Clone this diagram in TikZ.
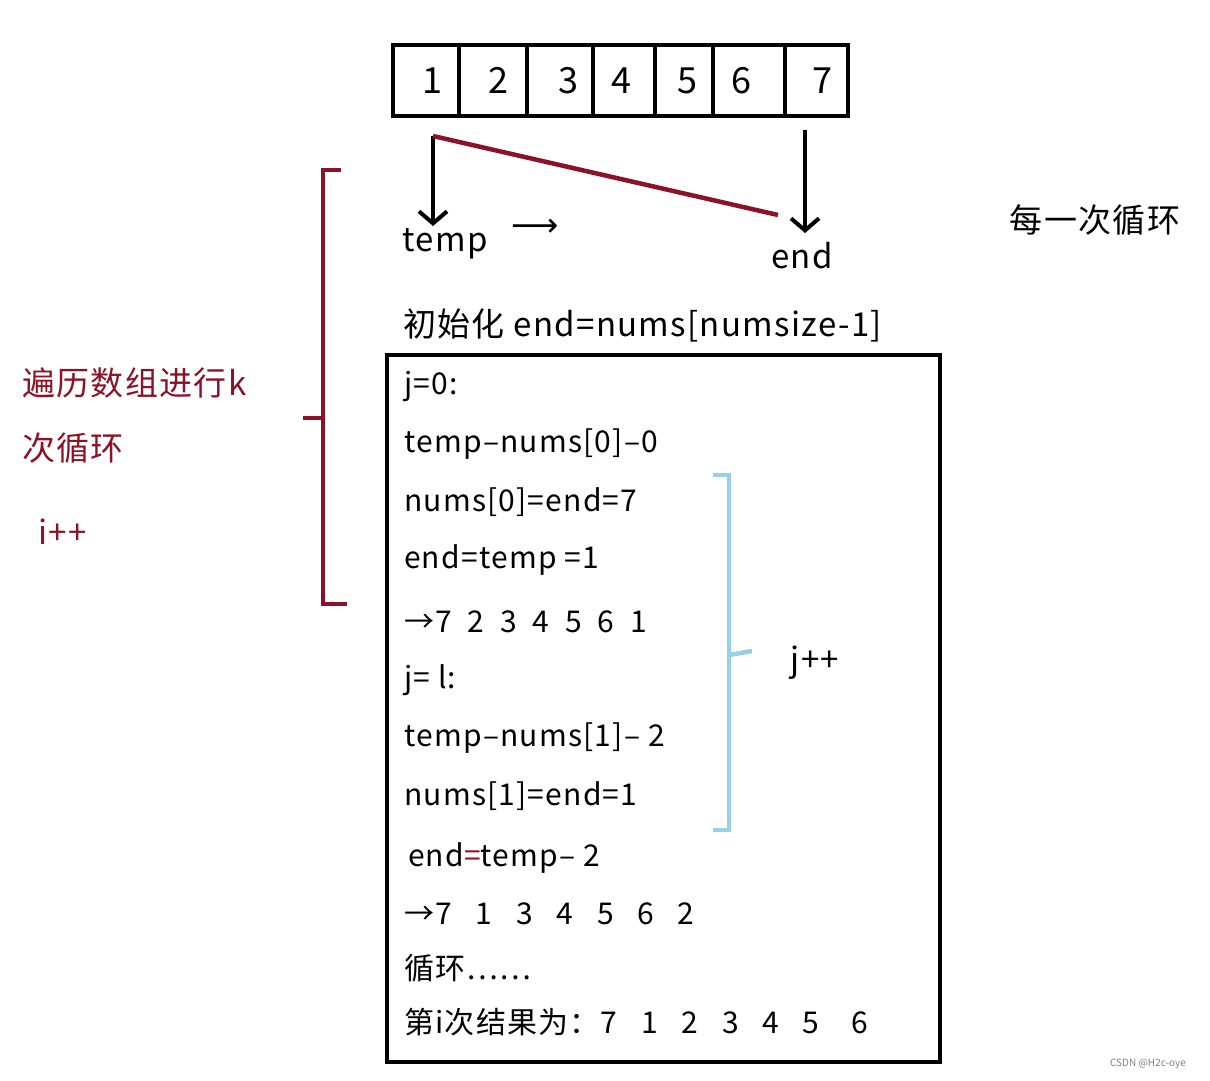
\documentclass[tikz,border=0pt]{standalone}
\usepackage{fontspec}
\setmainfont{Noto Sans CJK SC}
\newfontfamily\djv{DejaVu Sans}
\newfontfamily\spaced[LetterSpace=4]{Noto Sans CJK SC}
\definecolor{dred}{RGB}{140,18,40}
\definecolor{lblue}{RGB}{150,210,230}
\usetikzlibrary{arrows.meta}
\tikzset{
  cell/.style={draw,line width=3.5pt,minimum width=#1pt,minimum height=71pt,inner sep=0pt,font=\fontsize{36}{38}\selectfont},
  ln/.style={anchor=west,inner sep=0pt,font=\spaced\fontsize{30}{32}\selectfont},
  big/.style={inner sep=0pt,font=\spaced\fontsize{33}{35}\selectfont},
  arr/.style={-{Straight Barb[length=12pt,width=28pt,line width=4pt]},line width=4pt}
}
\begin{document}
\begin{tikzpicture}[x=1pt,y=-1pt]
\useasboundingbox (0,0) rectangle (1210,1081);
% array
\node[cell=66] (c1) at (426,80.5) {\hspace{12pt}1};
\node[cell=68] (c2) at (493,80.5) {\hspace{10pt}2};
\node[cell=66] (c3) at (560,80.5) {\hspace{16pt}3};
\node[cell=62] (c4) at (624,80.5) {\hspace{-6pt}4};
\node[cell=58] (c5) at (684,80.5) {\hspace{6pt}5};
\node[cell=72] (c6) at (749,80.5) {\hspace{-16pt}6};
\node[cell=63] (c7) at (816.5,80.5) {\hspace{12pt}7};
\coordinate (a1) at (433,136);
\coordinate (a2) at (805,130);
\node[big] (temp) at (445,244) {temp};
\node[big] (end) at (802,256) {end};
\draw[arr] (a1) -- (433,226);
\draw[arr] (a2) -- (805,233);
\coordinate (r2) at (778,215);
\draw[dred,line width=4.5pt] (a1) -- (r2);
\node[big] (tarr) at (535,228) {\djv ⟶};
\node[big] (every) at (1095,220) {每一次循环};
\node[big,anchor=west] (init) at (403,325) {初始化 end=nums[numsize-1]};
% box
\draw[line width=4.5pt] (387,355) rectangle (940,1062);
\node[ln] (l1) at (404,387) {j=0:};
\node[ln] (l2) at (404,444) {temp–nums[0]–0};
\node[ln] (l3) at (404,502) {nums[0]=end=7};
\node[ln] (l4) at (404,560) {end=temp =1};
\node[ln] (l5) at (404,622) {→7\ \ 2\ \ 3\ \ 4\ \ 5\ \ 6\ \ 1};
\node[ln] (l6) at (404,680) {j= l:};
\node[ln] (l7) at (404,738) {temp–nums[1]– 2};
\node[ln] (l8) at (404,796) {nums[1]=end=1};
\node[ln] (l9) at (408,858) {end\textcolor{dred}{=}temp– 2};
\node[ln] (l10) at (404,914) {→7\ \ \ 1\ \ \ 3\ \ \ 4\ \ \ 5\ \ \ 6\ \ \ 2};
\node[ln] (l11) at (404,968) {循环……};
\node[ln] (l12) at (404,1022) {第i次结果为：7\ \ \ 1\ \ \ 2\ \ \ 3\ \ \ 4\ \ \ 5\ \ \ \ 6};
% blue bracket
\draw[lblue,line width=4.5pt] (713,475) -- (729,475) -- (729,830) -- (713,830);
\draw[lblue,line width=4.5pt] (729,655) -- (752,651);
\node[big] (jpp) at (815,663) {j++};
% red bracket
\draw[dred,line width=4.5pt] (341,170) -- (323,170) -- (323,604) -- (347,604);
\draw[dred,line width=4.5pt] (303,418) -- (323,418);
\node[big,dred,anchor=west] (t1) at (22,383) {遍历数组进行k};
\node[big,dred,anchor=west] (t2) at (22,448) {次循环};
\node[big,dred,anchor=west] (t3) at (38,532) {i++};
\node[inner sep=0pt,gray,font=\fontsize{10}{12}\selectfont] (wm) at (1148,1064) {CSDN @H2c-oye};
\end{tikzpicture}
\end{document}
